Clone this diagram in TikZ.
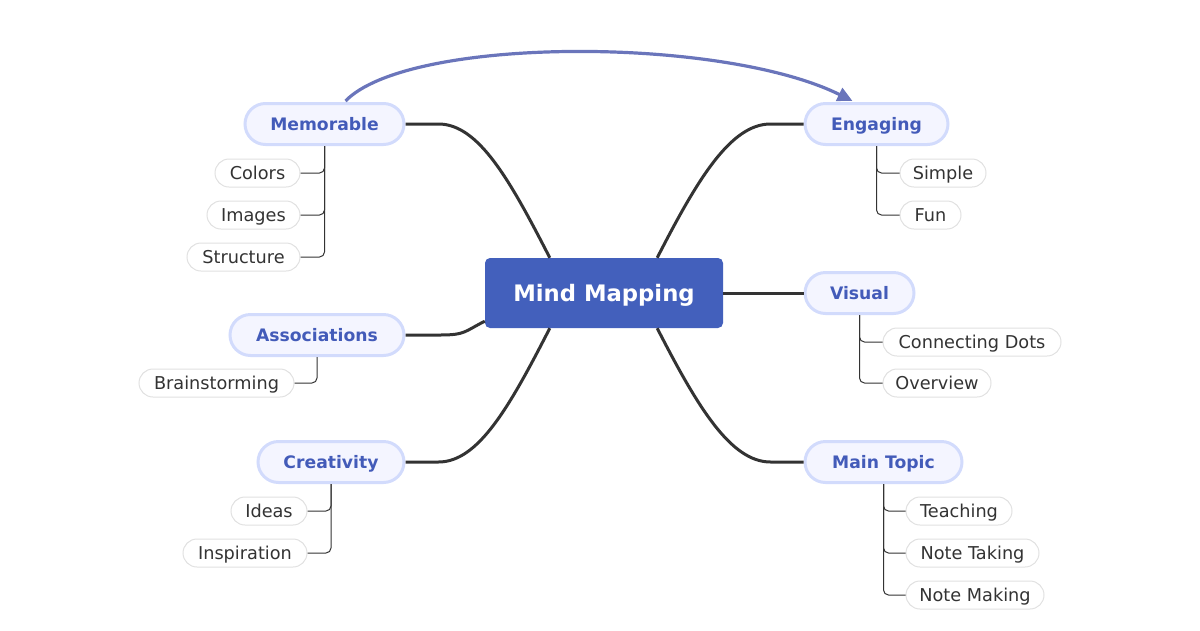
\documentclass[tikz,border=0pt]{standalone}
\usepackage{fontspec}
\setmainfont{DejaVu Sans}
\usetikzlibrary{arrows.meta,calc}
\definecolor{cfill}{RGB}{67,96,188}
\definecolor{mtext}{RGB}{67,91,185}
\definecolor{mfill}{RGB}{244,245,255}
\definecolor{mborder}{RGB}{210,219,252}
\definecolor{sborder}{RGB}{225,225,225}
\definecolor{dark}{RGB}{51,51,51}
\definecolor{arrowc}{RGB}{106,117,187}
\tikzset{
  centerbox/.style={fill=cfill, rounded corners=5pt, text=white, font=\fontsize{22.7}{26}\selectfont\bfseries, minimum width=238pt, minimum height=70pt, inner sep=0pt, text height=16.6pt, text depth=0pt},
  topicbox/.style={draw=mborder, line width=3pt, fill=mfill, rounded corners=20.5pt, text=mtext, font=\fontsize{17.2}{20}\selectfont\bfseries, minimum height=41pt, inner sep=0pt, text height=12.6pt, text depth=0pt},
  subbox/.style={draw=sborder, line width=1pt, fill=white, rounded corners=14pt, text=dark, font=\fontsize{17.7}{20}\selectfont, minimum height=28pt, inner sep=0pt, text height=12.9pt, text depth=0pt},
  mainline/.style={draw=dark, line width=3pt},
  subline/.style={draw=dark, line width=1pt, rounded corners=5pt},
  relarrow/.style={draw=arrowc, line width=3.2pt, -{Triangle[length=15pt,width=14pt]}}
}
\begin{document}
\begin{tikzpicture}[x=1pt,y=-1pt]
\useasboundingbox (0,0) rectangle (1200,630);
% central
\node[centerbox] (c) at (604,293) {Mind Mapping};
% main topics
\node[topicbox, minimum width=159pt, anchor=east] (mem) at (405.5,124) {Memorable};
\node[topicbox, minimum width=174pt, anchor=east] (as) at (405.5,335) {Associations};
\node[topicbox, minimum width=146pt, anchor=east] (cr) at (405.5,462) {Creativity};
\node[topicbox, minimum width=143pt, anchor=west] (en) at (803.5,124) {Engaging};
\node[topicbox, minimum width=109pt, anchor=west] (vi) at (803.5,293) {Visual};
\node[topicbox, minimum width=157pt, anchor=west] (mt) at (803.5,462) {Main Topic};
% subtopics
\node[subbox, minimum width=85pt, anchor=east] (s1) at (300.5,173) {Colors};
\node[subbox, minimum width=93pt, anchor=east] (s2) at (300.5,215) {Images};
\node[subbox, minimum width=113pt, anchor=east] (s3) at (300.5,257) {Structure};
\node[subbox, minimum width=155pt, anchor=east] (s4) at (294.5,383) {Brainstorming};
\node[subbox, minimum width=76pt, anchor=east] (s5) at (307.5,511) {Ideas};
\node[subbox, minimum width=124pt, anchor=east] (s6) at (307.5,553) {Inspiration};
\node[subbox, minimum width=86pt, anchor=west] (s7) at (899.5,173) {Simple};
\node[subbox, minimum width=61pt, anchor=west] (s8) at (899.5,215) {Fun};
\node[subbox, minimum width=178pt, anchor=west] (s9) at (882.5,342) {Connecting Dots};
\node[subbox, minimum width=108pt, anchor=west] (s10) at (882.5,383) {Overview};
\node[subbox, minimum width=106pt, anchor=west] (s11) at (905.5,511) {Teaching};
\node[subbox, minimum width=133pt, anchor=west] (s12) at (905.5,553) {Note Taking};
\node[subbox, minimum width=138pt, anchor=west] (s13) at (905.5,595) {Note Making};
% main connectors
\draw[mainline] ($(c.north west)+(65,0)$) .. controls +(-40,-78) and +(40,0) .. ($(mem.east)+(33,0)$) -- (mem.east);
\draw[mainline] ($(c.south west)+(65,0)$) .. controls +(-40,78) and +(40,0) .. ($(cr.east)+(33,0)$) -- (cr.east);
\draw[mainline] ($(c.south west)+(0,-7)$) .. controls +(-20,10) and +(25,0) .. ($(as.east)+(35,0)$) -- (as.east);
\draw[mainline] ($(c.north east)+(-66,0)$) .. controls +(40,-78) and +(-40,0) .. ($(en.west)+(-33,0)$) -- (en.west);
\draw[mainline] ($(c.south east)+(-66,0)$) .. controls +(40,78) and +(-40,0) .. ($(mt.west)+(-33,0)$) -- (mt.west);
\draw[mainline] (c.east) -- (vi.west);
% sub connectors
\draw[subline] (mem.south) |- (s1.east);
\draw[subline] (mem.south) |- (s2.east);
\draw[subline] (mem.south) |- (s3.east);
\draw[subline] (as.south) |- (s4.east);
\draw[subline] (cr.south) |- (s5.east);
\draw[subline] (cr.south) |- (s6.east);
\draw[subline] (en.south) |- (s7.west);
\draw[subline] (en.south) |- (s8.west);
\draw[subline] (vi.south) |- (s9.west);
\draw[subline] (vi.south) |- (s10.west);
\draw[subline] (mt.south) |- (s11.west);
\draw[subline] (mt.south) |- (s12.west);
\draw[subline] (mt.south) |- (s13.west);
% relation arrow
\draw[relarrow] ($(mem.north)+(21,-1)$) .. controls +(63,-65) and +(-131,-65) .. ($(en.north)+(-24,-1)$);
\end{tikzpicture}
\end{document}
